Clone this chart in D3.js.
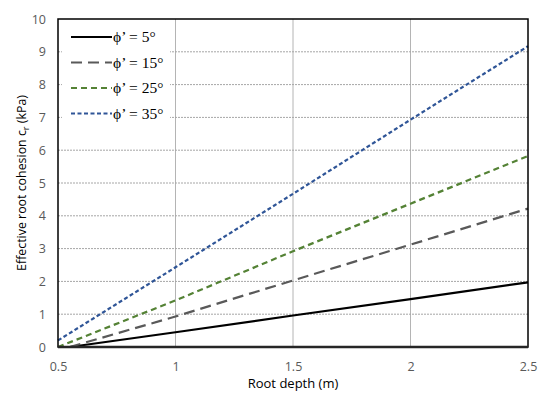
<!DOCTYPE html>
<html>
<head>
<meta charset="utf-8">
<script src="https://cdn.jsdelivr.net/npm/d3@7"></script>
<style>
  body { margin: 0; background: #fff; }
  svg { display: block; }
</style>
</head>
<body>
<div id="vis"></div>
<script>
// values
var depths = [0.5, 1, 1.5, 2, 2.5]
var depthsLow = [0.55, 1, 1.5, 2, 2.5]
var phi5 = [0, 0.45, 0.96, 1.46, 1.97]
var phi15 = [0, 0.93, 2.03, 3.12, 4.22]
var phi25 = [0, 1.42, 2.92, 4.37, 5.82]
var phi35 = [0.2, 2.43, 4.67, 6.93, 9.17]
var xTicks = [0.5, 1, 1.5, 2, 2.5]
var yTicks = [0, 1, 2, 3, 4, 5, 6, 7, 8, 9, 10]
var legendLabels = ['ϕ’ = 5°', 'ϕ’ = 15°', 'ϕ’ = 25°', 'ϕ’ = 35°']

var series = [
  { x: depthsLow, y: phi5, color: '#000000', dash: null, width: 2.2 },
  { x: depthsLow, y: phi15, color: '#595959', dash: '11,6', width: 2.2 },
  { x: depths, y: phi25, color: '#548235', dash: '6,4', width: 2.2 },
  { x: depths, y: phi35, color: '#2f5597', dash: '4,2.5', width: 2.2 }
]

var w = 550,
  h = 402
var m = { left: 58, right: 22, top: 19, bottom: 55 }

var svg = d3.select('#vis').append('svg').attr('width', w).attr('height', h)

var x = d3.scaleLinear().domain([0.5, 2.5]).range([m.left, w - m.right])
var y = d3.scaleLinear().domain([0, 10]).range([h - m.bottom, m.top])

// vertical grid (solid)
svg.append('g')
  .selectAll('line')
  .data(xTicks.slice(1, -1))
  .enter()
  .append('line')
  .attr('x1', function (d) { return x(d) })
  .attr('x2', function (d) { return x(d) })
  .attr('y1', y(0))
  .attr('y2', y(10))
  .attr('stroke', '#b4b4b4')
  .attr('stroke-width', 1)

// horizontal grid (dotted)
svg.append('g')
  .selectAll('line')
  .data(yTicks.slice(1, -1))
  .enter()
  .append('line')
  .attr('x1', x(0.5))
  .attr('x2', x(2.5))
  .attr('y1', function (d) { return y(d) })
  .attr('y2', function (d) { return y(d) })
  .attr('stroke', '#a6a6a6')
  .attr('stroke-width', 1)
  .attr('stroke-dasharray', '2,1')

// legend background hides the grid behind it
svg.append('rect')
  .attr('x', 62)
  .attr('y', 22)
  .attr('width', 108)
  .attr('height', 104)
  .attr('fill', '#fff')

// lines
var line = d3.line()
  .x(function (d) { return x(d[0]) })
  .y(function (d) { return y(d[1]) })

svg.append('g')
  .selectAll('path')
  .data(series)
  .enter()
  .append('path')
  .attr('d', function (s) { return line(d3.zip(s.x, s.y)) })
  .attr('fill', 'none')
  .attr('stroke', function (s) { return s.color })
  .attr('stroke-width', function (s) { return s.width })
  .attr('stroke-dasharray', function (s) { return s.dash })

// axes
var xAxis = svg.append('g')
  .attr('transform', 'translate(0,' + y(0) + ')')
  .call(d3.axisBottom(x).tickValues(xTicks).tickSize(0).tickPadding(15).tickFormat(d3.format('')))
var yAxis = svg.append('g')
  .attr('transform', 'translate(' + x(0.5) + ',0)')
  .call(d3.axisLeft(y).tickValues(yTicks).tickSize(0).tickPadding(12))

;[xAxis, yAxis].forEach(function (a) {
  a.select('.domain').remove()
  a.selectAll('text')
    .attr('fill', '#595959')
    .style('font-family', '"Open Sans", "Liberation Sans", sans-serif')
    .style('font-size', '12.5px')
})

// plot frame
svg.append('rect')
  .attr('x', x(0.5))
  .attr('y', y(10))
  .attr('width', x(2.5) - x(0.5))
  .attr('height', y(0) - y(10))
  .attr('fill', 'none')
  .attr('stroke', '#000')
  .attr('stroke-width', 1.5)
svg.append('line')
  .attr('x1', x(0.5))
  .attr('x2', x(2.5))
  .attr('y1', y(0))
  .attr('y2', y(0))
  .attr('stroke', '#262626')
  .attr('stroke-width', 2.5)

// axis titles
svg.append('text')
  .attr('x', (x(0.5) + x(2.5)) / 2)
  .attr('y', 388)
  .attr('text-anchor', 'middle')
  .attr('fill', '#000')
  .style('font-family', '"Open Sans", "Liberation Sans", sans-serif')
  .style('font-size', '13px')
  .text('Root depth (m)')

var yt = svg.append('text')
  .attr('transform', 'translate(26,' + ((y(0) + y(10)) / 2) + ')rotate(-90)')
  .attr('text-anchor', 'middle')
  .attr('fill', '#000')
  .style('font-family', '"Open Sans", "Liberation Sans", sans-serif')
  .style('font-size', '12.4px')
yt.append('tspan').text('Effective root cohesion c')
yt.append('tspan').attr('font-size', '9px').attr('dy', 3).text('r')
yt.append('tspan').attr('dy', -3).text(' (kPa)')

// legend
var leg = svg.append('g')
  .selectAll('g')
  .data(series)
  .enter()
  .append('g')
  .attr('transform', function (d, i) { return 'translate(71,' + (37 + i * 25.5) + ')' })

leg.append('line')
  .attr('x1', 0)
  .attr('x2', 41)
  .attr('stroke', function (s) { return s.color })
  .attr('stroke-width', function (s) { return s.width })
  .attr('stroke-dasharray', function (s) { return s.dash })

leg.append('text')
  .attr('x', 42)
  .attr('dy', '0.35em')
  .attr('fill', '#000')
  .attr('font-family', 'Liberation Serif, Times New Roman, serif')
  .attr('font-size', 15.5)
  .text(function (d, i) { return legendLabels[i] })
</script>
</body>
</html>
